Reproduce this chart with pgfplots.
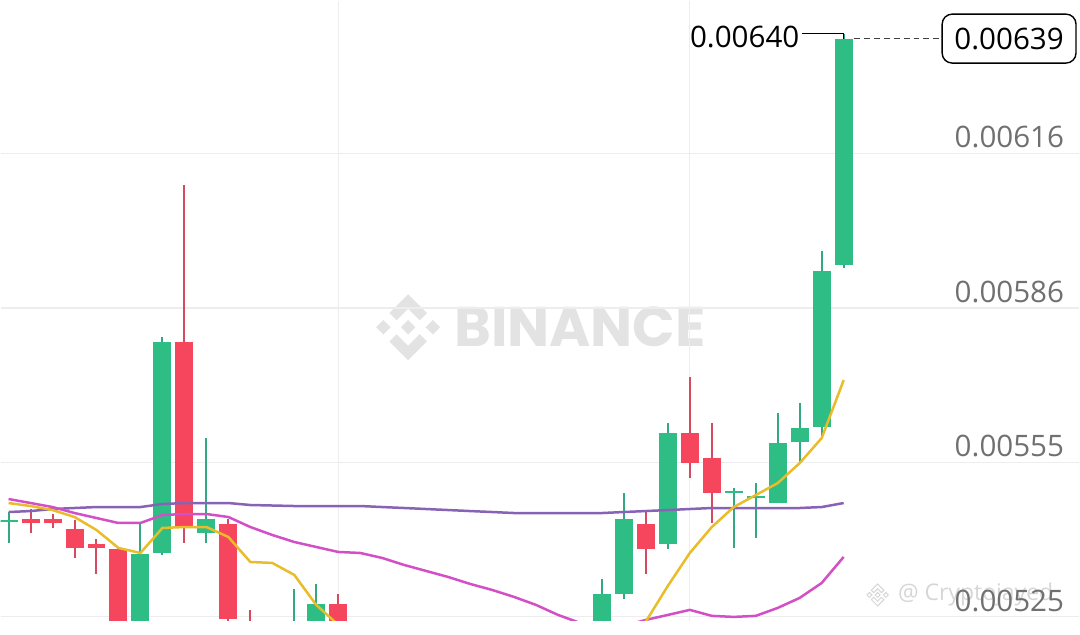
\documentclass[border=0pt]{standalone}
\usepackage{fontspec}
\setmainfont{Open Sans}
\newfontfamily\wmfont{Poppins}
\usepackage{pgfplots}
\pgfplotsset{compat=1.18}
\usepackage{pgfplotstable}
\definecolor{upc}{HTML}{2EBD85}
\definecolor{dnc}{HTML}{F6465D}
\definecolor{upw}{HTML}{33A882}
\definecolor{dnw}{HTML}{D64A60}
\definecolor{maA}{HTML}{E9BC2A}
\definecolor{maB}{HTML}{D24FC6}
\definecolor{maC}{HTML}{8763B5}
\definecolor{gridc}{HTML}{EDEDED}
\definecolor{lblc}{HTML}{707070}
\definecolor{wmc}{HTML}{E3E3E3}
\definecolor{wmd}{HTML}{D6D6D6}

% up (green) candles: index open high low close
\pgfplotstableread{
i o h l c
0 0.0054340 0.0054543 0.0053934 0.0054380
6 0.0052100 0.0054327 0.0051900 0.0053717
7 0.0053737 0.0057983 0.0053698 0.0057885
9 0.0054130 0.0055998 0.0053934 0.0054406
13 0.0052000 0.0053030 0.0051900 0.0052350
14 0.0052200 0.0053128 0.0052100 0.0052735
18 0.0051500 0.0051850 0.0051400 0.0051700
21 0.0051000 0.0051350 0.0050900 0.0051200
23 0.0050900 0.0051250 0.0050800 0.0051100
24 0.0051100 0.0051500 0.0051000 0.0051400
26 0.0051200 0.0051800 0.0051100 0.0051600
27 0.0051600 0.0053226 0.0051400 0.0052932
28 0.0052932 0.0054917 0.0052833 0.0054406
30 0.0053914 0.0056293 0.0053816 0.0056096
33 0.0054917 0.0055015 0.0053835 0.0054956
34 0.0054820 0.0055113 0.0054032 0.0054860
35 0.0054720 0.0056489 0.0054720 0.0055899
36 0.0055919 0.0056686 0.0055526 0.0056194
37 0.0056214 0.0059674 0.0056017 0.0059280
38 0.0059398 0.0063960 0.0059350 0.0063860
}\upT

% down (red) candles
\pgfplotstableread{
i o h l c
1 0.0054406 0.0054602 0.0054130 0.0054327
2 0.0054406 0.0054504 0.0054229 0.0054327
3 0.0054209 0.0054386 0.0053639 0.0053835
4 0.0053914 0.0054012 0.0053324 0.0053835
5 0.0053816 0.0053830 0.0051800 0.0052000
8 0.0057885 0.0060971 0.0053934 0.0054229
10 0.0054307 0.0054406 0.0052350 0.0052440
11 0.0052300 0.0052617 0.0051900 0.0052100
12 0.0052100 0.0052300 0.0051800 0.0052000
15 0.0052735 0.0052932 0.0051900 0.0052100
16 0.0052100 0.0052200 0.0051600 0.0051800
17 0.0051800 0.0051950 0.0051300 0.0051500
19 0.0051700 0.0051800 0.0051100 0.0051300
20 0.0051300 0.0051400 0.0050800 0.0051000
22 0.0051200 0.0051300 0.0050700 0.0050900
25 0.0051400 0.0051600 0.0051100 0.0051200
29 0.0054307 0.0054543 0.0053324 0.0053816
31 0.0056096 0.0057197 0.0055211 0.0055506
32 0.0055605 0.0056293 0.0054327 0.0054917
}\dnT

% moving averages
\pgfplotstableread{
i m7 m25 m99
0 0.0054720 0.0054799 0.0054543
1 0.0054661 0.0054720 0.0054562
2 0.0054582 0.0054641 0.0054602
3 0.0054445 0.0054523 0.0054622
4 0.0054189 0.0054425 0.0054641
5 0.0053835 0.0054327 0.0054641
6 0.0053737 0.0054327 0.0054641
7 0.0054229 0.0054484 0.0054700
8 0.0054248 0.0054504 0.0054720
9 0.0054248 0.0054504 0.0054720
10 0.0054052 0.0054445 0.0054720
11 0.0053560 0.0054248 0.0054681
12 0.0053541 0.0054091 0.0054671
13 0.0053305 0.0053953 0.0054661
14 0.0052715 0.0053855 0.0054661
15 0.0052322 0.0053757 0.0054661
16 0.0051950 0.0053737 0.0054661
17 0.0051750 0.0053639 0.0054641
18 0.0051600 0.0053501 0.0054622
19 0.0051450 0.0053383 0.0054602
20 0.0051300 0.0053265 0.0054582
21 0.0051200 0.0053128 0.0054562
22 0.0051150 0.0053010 0.0054543
23 0.0051100 0.0052872 0.0054523
24 0.0051100 0.0052715 0.0054523
25 0.0051150 0.0052518 0.0054523
26 0.0051250 0.0052361 0.0054523
27 0.0051500 0.0052283 0.0054523
28 0.0051850 0.0052302 0.0054543
29 0.0052390 0.0052420 0.0054562
30 0.0053089 0.0052518 0.0054582
31 0.0053737 0.0052617 0.0054602
32 0.0054248 0.0052499 0.0054622
33 0.0054641 0.0052479 0.0054622
34 0.0054877 0.0052499 0.0054622
35 0.0055113 0.0052656 0.0054622
36 0.0055506 0.0052853 0.0054622
37 0.0055998 0.0053147 0.0054641
38 0.0057138 0.0053659 0.0054720
}\maT

\begin{document}
\begin{tikzpicture}
% watermarks (behind the chart)
\begin{scope}[shift={(204pt,147pt)}, x=16.5pt, y=16.5pt, fill=wmc]
  \fill (0,0.22) -- (0.22,0) -- (0,-0.22) -- (-0.22,0) -- cycle;
  \fill (-0.75,0.22) -- (-0.53,0) -- (-0.75,-0.22) -- (-0.97,0) -- cycle;
  \fill (0.75,0.22) -- (0.97,0) -- (0.75,-0.22) -- (0.53,0) -- cycle;
  \fill (0,1) -- (0.57,0.43) -- (0.35,0.21) -- (0,0.56) -- (-0.35,0.21) -- (-0.57,0.43) -- cycle;
  \fill (0,-1) -- (0.57,-0.43) -- (0.35,-0.21) -- (0,-0.56) -- (-0.35,-0.21) -- (-0.57,-0.43) -- cycle;
\end{scope}
\node[text=wmc, inner sep=0pt, font=\wmfont\bfseries\fontsize{28}{30}\selectfont] at (290pt,147.2pt) {BINANCE};
\begin{scope}[shift={(439pt,13pt)}, x=5.5pt, y=5.5pt, draw=wmd, line width=0.5pt]
  \draw (0,0.22) -- (0.22,0) -- (0,-0.22) -- (-0.22,0) -- cycle;
  \draw (-0.75,0.22) -- (-0.53,0) -- (-0.75,-0.22) -- (-0.97,0) -- cycle;
  \draw (0.75,0.22) -- (0.97,0) -- (0.75,-0.22) -- (0.53,0) -- cycle;
  \draw (0,1) -- (0.57,0.43) -- (0.35,0.21) -- (0,0.56) -- (-0.35,0.21) -- (-0.57,0.43) -- cycle;
  \draw (0,-1) -- (0.57,-0.43) -- (0.35,-0.21) -- (0,-0.56) -- (-0.35,-0.21) -- (-0.57,-0.43) -- cycle;
\end{scope}
\node[anchor=west, text=wmd, inner sep=0pt, font=\fontsize{11.5}{13}\selectfont] at (449pt,13pt) {@ Cryptojayed};

\begin{axis}[
  at={(0,0)}, anchor=south west,
  scale only axis, width=540pt, height=310.5pt,
  xmin=-0.3636, xmax=48.727,
  ymin=0.0052400, ymax=0.0064608,
  axis line style={draw=none},
  tick style={draw=none},
  major tick length=0pt,
  scaled y ticks=false, scaled x ticks=false,
  xtick={15,31}, xticklabels={},
  xmajorgrids, ymajorgrids,
  grid style={gridc, line width=0.6pt},
  ytick={0.005248,0.005552,0.005856,0.006160},
  yticklabels={0.00525,0.00555,0.00586,0.00616},
  yticklabel pos=right,
  yticklabel style={anchor=base east, inner sep=0pt, xshift=-7.5pt, yshift=2.8pt, text=lblc, font=\fontsize{14.8}{16}\selectfont},
  clip=true,
]
% wicks
\addplot[draw=none, mark=none, forget plot, error bars/.cd, y dir=plus, y explicit, error mark=none,
  error bar style={line width=1pt, draw=upw, solid}] table[x=i, y=l, y error expr=\thisrow{h}-\thisrow{l}] {\upT};
\addplot[draw=none, mark=none, forget plot, error bars/.cd, y dir=plus, y explicit, error mark=none,
  error bar style={line width=1pt, draw=dnw, solid}] table[x=i, y=l, y error expr=\thisrow{h}-\thisrow{l}] {\dnT};
% bodies
\addplot[draw=none, mark=none, forget plot, error bars/.cd, y dir=plus, y explicit, error mark=none,
  error bar style={line width=9pt, draw=upc, solid}] table[x=i, y=o, y error expr=\thisrow{c}-\thisrow{o}] {\upT};
\addplot[draw=none, mark=none, forget plot, error bars/.cd, y dir=plus, y explicit, error mark=none,
  error bar style={line width=9pt, draw=dnc, solid}] table[x=i, y=c, y error expr=\thisrow{o}-\thisrow{c}] {\dnT};
% moving averages
\addplot[maC, line width=1.25pt, mark=none] table[x=i, y=m99] {\maT};
\addplot[maB, line width=1.25pt, mark=none] table[x=i, y=m25] {\maT};
\addplot[maA, line width=1.25pt, mark=none] table[x=i, y=m7] {\maT};
% high marker and current price
\draw[black, line width=0.6pt] (axis cs:36.09,0.0063960) -- (axis cs:38,0.0063960) -- (axis cs:38,0.0063860);
\node[anchor=east, inner sep=0pt, font=\fontsize{14.8}{16}\selectfont] at (axis cs:36.0,0.0063900) {0.00640};
\draw[black!75, line width=0.6pt, dash pattern=on 3pt off 2pt] (axis cs:38.45,0.0063860) -- (axis cs:42.45,0.0063860);
\node[draw=black, rounded corners=5pt, line width=0.7pt, minimum width=67pt, minimum height=24.5pt, inner sep=0pt, anchor=west, font=\fontsize{14.8}{16}\selectfont] at (axis cs:42.45,0.0063860) {0.00639};
\end{axis}
\end{tikzpicture}
\end{document}
